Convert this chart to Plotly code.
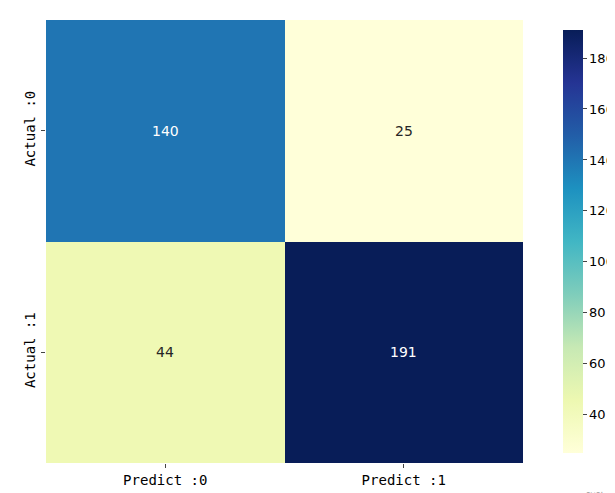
import plotly.graph_objects as go

x_labels = ["Predict :0", "Predict :1"]
y_labels = ["Actual :0", "Actual :1"]
values = [[140, 25], [44, 191]]

ylgnbu = ["#ffffd9", "#edf8b1", "#c7e9b4", "#7fcdbb", "#41b6c4",
          "#1d91c0", "#225ea8", "#253494", "#081d58"]
colorscale = [[i / (len(ylgnbu) - 1), c] for i, c in enumerate(ylgnbu)]

zmin = min(min(r) for r in values)
zmax = max(max(r) for r in values)

fig = go.Figure(go.Heatmap(
    z=values, x=x_labels, y=y_labels,
    colorscale=colorscale, zmin=zmin, zmax=zmax,
    colorbar=dict(thickness=20, len=1, x=1.063, xanchor="left", y=0.5,
                  yanchor="middle", outlinewidth=0, ticks="outside",
                  ticklen=4, tickvals=list(range(40, 200, 20)),
                  tickfont=dict(family="DejaVu Sans", size=13)),
))

for i, row in enumerate(values):
    for j, v in enumerate(row):
        t = (v - zmin) / (zmax - zmin)
        fig.add_annotation(x=x_labels[j], y=y_labels[i], text=str(v),
                           showarrow=False,
                           font=dict(size=14, family="DejaVu Sans",
                                     color="white" if t > 0.5 else "#262626"))

fig.update_layout(
    width=615, height=493,
    margin=dict(l=38, r=100, t=12, b=38, autoexpand=False),
    plot_bgcolor="white", paper_bgcolor="white",
    font=dict(family="DejaVu Sans Mono", size=14, color="black"),
)
fig.update_xaxes(ticks="outside", ticklen=4, showgrid=False, zeroline=False)
fig.update_yaxes(ticks="outside", ticklen=4, showgrid=False, zeroline=False,
                 autorange="reversed", tickangle=-90)
fig.add_annotation(text="CSDN @张陈亚", xref="paper", yref="paper",
                   x=1.2, y=-0.055, xanchor="right", yanchor="top",
                   showarrow=False,
                   font=dict(size=10, color="#999999", family="Noto Sans CJK SC"))

fig.write_html("out.html")
